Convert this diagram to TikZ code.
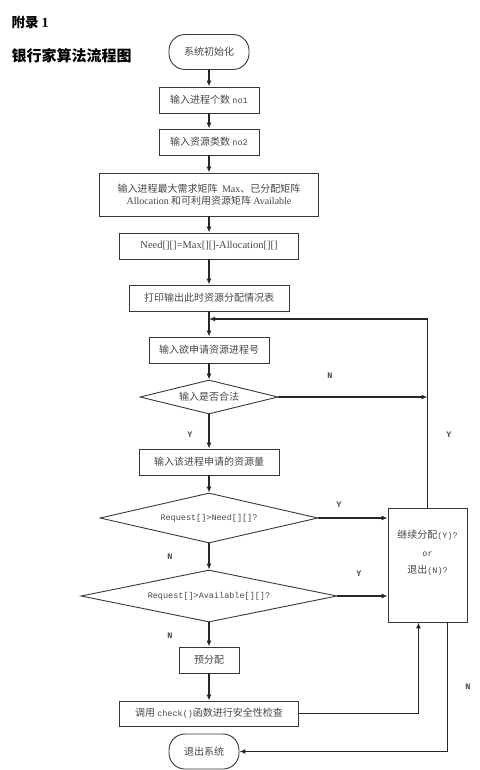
\documentclass[tikz,border=0pt]{standalone}
\usepackage{fontspec}
\usepackage{tikz}
\usepackage{xcolor}
\usetikzlibrary{shapes.geometric,arrows.meta}
\setmainfont{Liberation Serif}
\setmonofont{Liberation Mono}
\newfontfamily\cjk{Noto Sans CJK SC}
\newcommand{\en}[1]{{\rmfamily #1}}
\newcommand{\code}[1]{{\ttfamily\fontsize{8.5}{10}\selectfont #1}}
\definecolor{flowline}{RGB}{55,55,55}
\definecolor{flowtext}{RGB}{70,70,70}

\begin{document}
\begin{tikzpicture}[x=1pt,y=-1pt]
    \tikzstyle{proc} = [rectangle, draw=flowline, line width=0.9pt, text=flowtext, font=\cjk\fontsize{10}{12}\selectfont, minimum height=26pt, inner sep=2pt]
    \tikzstyle{term} = [proc, rounded corners=16pt, minimum height=35pt]
    \tikzstyle{cond} = [diamond, aspect=4, draw=flowline, line width=0.9pt, text=flowtext, font=\cjk\fontsize{10}{12}\selectfont, inner sep=0pt]
    \tikzstyle{flow} = [line width=1.2pt, draw=black!85, -{Latex[length=6pt,width=5pt]}]
    \tikzstyle{yn} = [font=\ttfamily\bfseries\fontsize{8.5}{8.5}\selectfont, text=flowtext]

    \useasboundingbox (0,0) rectangle (479,770);

    \node[anchor=west, font=\cjk\bfseries\fontsize{13.5}{13.5}\selectfont] (appx) at (8,22) {附录 \en{\bfseries\fontsize{14}{14}\selectfont 1}};
    \node[anchor=west, font=\cjk\bfseries\fontsize{15}{15}\selectfont] (title) at (8,56) {银行家算法流程图};

    \node[term, minimum width=80pt] (init) at (209,52) {系统初始化};
    \node[proc, minimum width=100pt] (nproc) at (209,100) {输入进程个数 \code{no1}};
    \node[proc, minimum width=100pt] (nres) at (209,142) {输入资源类数 \code{no2}};
    \node[proc, minimum width=219pt, minimum height=43pt, align=center] (matin) at (209,194.5) {输入进程最大需求矩阵\ \ \en{Max}、已分配矩阵\\\en{Allocation} 和可利用资源矩阵 \en{Available}};
    \node[proc, minimum width=179pt, font=\rmfamily\fontsize{10.5}{12}\selectfont] (need) at (209,246) {Need[][]=Max[][]-Allocation[][]};
    \node[proc, minimum width=160pt] (show) at (209,298) {打印输出此时资源分配情况表};
    \node[proc, minimum width=120pt] (pid) at (209,350) {输入欲申请资源进程号};
    \node[cond, minimum width=138pt, minimum height=34pt] (valid) at (209,397) {输入是否合法};
    \node[proc, minimum width=140pt] (amount) at (209,462) {输入该进程申请的资源量};
    \node[cond, minimum width=218pt, minimum height=50pt] (cmpneed) at (209,518) {\code{Request[]>Need[][]?}};
    \node[cond, minimum width=256pt, minimum height=52pt] (cmpavail) at (209,596) {\code{Request[]>Available[][]?}};
    \node[proc, minimum width=60pt] (prealloc) at (209,660) {预分配};
    \node[proc, minimum width=179pt, minimum height=25pt] (check) at (209,713.5) {调用 \code{check()}函数进行安全性检查};
    \node[term, minimum width=70pt] (quit) at (204,751.5) {退出系统};
    \node[proc, minimum width=79pt, minimum height=114pt, align=center, font=\cjk\fontsize{10}{17.5}\selectfont] (choice) at (427.5,565) {继续分配\code{(Y)?}\\\code{or}\\退出\code{(N)?}\\[8pt]};

    \coordinate (loop) at (209,319);

    \draw[flow] (init) -- (nproc);
    \draw[flow] (nproc) -- (nres);
    \draw[flow] (nres) -- (matin);
    \draw[flow] (matin) -- (need);
    \draw[flow] (need) -- (show);
    \draw[flow] (show) -- (pid);
    \draw[flow] (pid) -- (valid);
    \draw[flow] (valid) -- (amount);
    \draw[flow] (amount) -- (cmpneed);
    \draw[flow] (cmpneed) -- (cmpavail);
    \draw[flow] (cmpavail) -- (prealloc);
    \draw[flow] (prealloc) -- (check);

    \draw[flow] (choice.north) |- (loop);
    \draw[flow] (valid.east) -- (valid.east -| choice.north);
    \draw[flow] (cmpneed.east) -- (cmpneed.east -| choice.west);
    \draw[flow] (cmpavail.east) -- (cmpavail.east -| choice.west);
    \draw[flow] (check.east) -| ([xshift=-9pt]choice.south);
    \draw[flow] ([xshift=20pt]choice.south) |- (quit.east);

    \node[yn] (validn) at (330,376) {N};
    \node[yn] (validy) at (190,435) {Y};
    \node[yn] (loopy) at (449,435) {Y};
    \node[yn] (needy) at (339,505) {Y};
    \node[yn] (needn) at (170,557) {N};
    \node[yn] (availy) at (359,574) {Y};
    \node[yn] (availn) at (170,636) {N};
    \node[yn] (quitn) at (468,687) {N};
\end{tikzpicture}
\end{document}
